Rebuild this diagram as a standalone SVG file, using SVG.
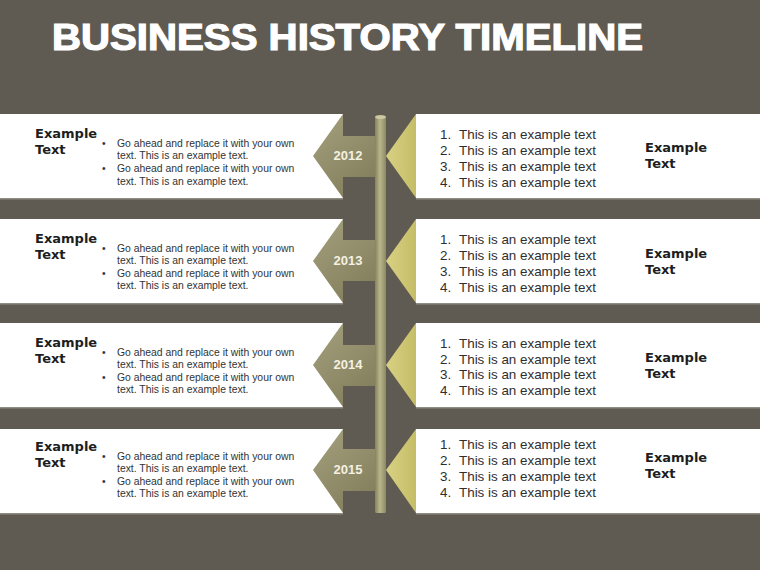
<svg xmlns="http://www.w3.org/2000/svg" width="760" height="570" viewBox="0 0 760 570">
<defs>
  <linearGradient id="gArrow" x1="0" y1="0" x2="0.6" y2="1">
    <stop offset="0" stop-color="#a5a17e"/>
    <stop offset="1" stop-color="#84805e"/>
  </linearGradient>
  <linearGradient id="gTri" x1="0" y1="0" x2="1" y2="0">
    <stop offset="0" stop-color="#d8d184"/>
    <stop offset="1" stop-color="#c5bd66"/>
  </linearGradient>
  <linearGradient id="gPole" x1="0" y1="0" x2="1" y2="0">
    <stop offset="0" stop-color="#86825d"/>
    <stop offset="0.45" stop-color="#bab68b"/>
    <stop offset="1" stop-color="#8c8862"/>
  </linearGradient>
  <style>
    .band{fill:#ffffff}
    .shadow{fill:#8f8c84}
    .arrow{fill:url(#gArrow)}
    .tri{fill:url(#gTri)}
    .title{font-family:"Liberation Sans",Arial,sans-serif;font-weight:bold;font-size:36px;fill:#ffffff;stroke:#ffffff;stroke-width:1.2px}
    .year{font-family:"Liberation Sans",Arial,sans-serif;font-weight:bold;font-size:13px;fill:#f3f1e2;text-anchor:middle}
    .head{font-family:"DejaVu Sans",Verdana,sans-serif;font-weight:bold;font-size:13px;fill:#1e1e1e}
    .bul{font-family:"Liberation Sans",Arial,sans-serif;font-size:10.4px;fill:#333333}
    .num{font-family:"Liberation Sans",Arial,sans-serif;font-size:13.4px;fill:#2e2e2e}
  </style>
</defs>
<rect x="0" y="0" width="760" height="570" fill="#5f5b52"/>
<g id="title">
  <text class="title" x="52" y="50" textLength="591" lengthAdjust="spacingAndGlyphs">BUSINESS HISTORY TIMELINE</text>
</g>

<g id="row-2012">
  <rect class="shadow" x="0" y="198" width="343" height="1.5"/>
  <rect class="shadow" x="416" y="198" width="344" height="1.5"/>
  <rect class="band" x="0" y="114" width="343" height="84"/>
  <rect class="band" x="416" y="114" width="344" height="84"/>
  <polygon class="arrow" points="313,156 343,114 343,136 375,136 375,177 343,177 343,198"/>
  <polygon class="tri" points="386,156 416,114 416,198"/>
  <text class="head" x="35" y="138">Example</text>
  <text class="head" x="35" y="154">Text</text>
  <text class="bul" x="102" y="147">•</text>
  <text class="bul" x="117" y="147">Go ahead and replace it with your own</text>
  <text class="bul" x="117" y="159">text. This is an example text.</text>
  <text class="bul" x="102" y="172">•</text>
  <text class="bul" x="117" y="172">Go ahead and replace it with your own</text>
  <text class="bul" x="117" y="185">text. This is an example text.</text>
  <text class="year" x="348" y="160">2012</text>
  <text class="num" x="440" y="139">1.</text><text class="num" x="459" y="139">This is an example text</text>
  <text class="num" x="440" y="155">2.</text><text class="num" x="459" y="155">This is an example text</text>
  <text class="num" x="440" y="171">3.</text><text class="num" x="459" y="171">This is an example text</text>
  <text class="num" x="440" y="187">4.</text><text class="num" x="459" y="187">This is an example text</text>
  <text class="head" x="645" y="152">Example</text>
  <text class="head" x="645" y="168">Text</text>
</g>

<g id="row-2013">
  <rect class="shadow" x="0" y="303" width="343" height="1.5"/>
  <rect class="shadow" x="416" y="303" width="344" height="1.5"/>
  <rect class="band" x="0" y="219" width="343" height="84"/>
  <rect class="band" x="416" y="219" width="344" height="84"/>
  <polygon class="arrow" points="313,261 343,219 343,240 375,240 375,281 343,281 343,303"/>
  <polygon class="tri" points="386,261 416,219 416,303"/>
  <text class="head" x="35" y="243">Example</text>
  <text class="head" x="35" y="259">Text</text>
  <text class="bul" x="102" y="252">•</text>
  <text class="bul" x="117" y="252">Go ahead and replace it with your own</text>
  <text class="bul" x="117" y="264">text. This is an example text.</text>
  <text class="bul" x="102" y="277">•</text>
  <text class="bul" x="117" y="277">Go ahead and replace it with your own</text>
  <text class="bul" x="117" y="289">text. This is an example text.</text>
  <text class="year" x="348" y="265">2013</text>
  <text class="num" x="440" y="244">1.</text><text class="num" x="459" y="244">This is an example text</text>
  <text class="num" x="440" y="260">2.</text><text class="num" x="459" y="260">This is an example text</text>
  <text class="num" x="440" y="276">3.</text><text class="num" x="459" y="276">This is an example text</text>
  <text class="num" x="440" y="292">4.</text><text class="num" x="459" y="292">This is an example text</text>
  <text class="head" x="645" y="258">Example</text>
  <text class="head" x="645" y="274">Text</text>
</g>

<g id="row-2014">
  <rect class="shadow" x="0" y="407" width="343" height="1.5"/>
  <rect class="shadow" x="416" y="407" width="344" height="1.5"/>
  <rect class="band" x="0" y="323" width="343" height="84"/>
  <rect class="band" x="416" y="323" width="344" height="84"/>
  <polygon class="arrow" points="313,365 343,323 343,345 375,345 375,386 343,386 343,407"/>
  <polygon class="tri" points="386,365 416,323 416,407"/>
  <text class="head" x="35" y="347">Example</text>
  <text class="head" x="35" y="363">Text</text>
  <text class="bul" x="102" y="356">•</text>
  <text class="bul" x="117" y="356">Go ahead and replace it with your own</text>
  <text class="bul" x="117" y="368">text. This is an example text.</text>
  <text class="bul" x="102" y="381">•</text>
  <text class="bul" x="117" y="381">Go ahead and replace it with your own</text>
  <text class="bul" x="117" y="393">text. This is an example text.</text>
  <text class="year" x="348" y="369">2014</text>
  <text class="num" x="440" y="348">1.</text><text class="num" x="459" y="348">This is an example text</text>
  <text class="num" x="440" y="364">2.</text><text class="num" x="459" y="364">This is an example text</text>
  <text class="num" x="440" y="379">3.</text><text class="num" x="459" y="379">This is an example text</text>
  <text class="num" x="440" y="395">4.</text><text class="num" x="459" y="395">This is an example text</text>
  <text class="head" x="645" y="362">Example</text>
  <text class="head" x="645" y="378">Text</text>
</g>

<g id="row-2015">
  <rect class="shadow" x="0" y="513" width="343" height="1.5"/>
  <rect class="shadow" x="416" y="513" width="344" height="1.5"/>
  <rect class="band" x="0" y="429" width="343" height="84"/>
  <rect class="band" x="416" y="429" width="344" height="84"/>
  <polygon class="arrow" points="313,470 343,429 343,449 375,449 375,491 343,491 343,513"/>
  <polygon class="tri" points="386,470 416,429 416,513"/>
  <text class="head" x="35" y="451">Example</text>
  <text class="head" x="35" y="467">Text</text>
  <text class="bul" x="102" y="460">•</text>
  <text class="bul" x="117" y="460">Go ahead and replace it with your own</text>
  <text class="bul" x="117" y="472">text. This is an example text.</text>
  <text class="bul" x="102" y="485">•</text>
  <text class="bul" x="117" y="485">Go ahead and replace it with your own</text>
  <text class="bul" x="117" y="497">text. This is an example text.</text>
  <text class="year" x="348" y="474">2015</text>
  <text class="num" x="440" y="449">1.</text><text class="num" x="459" y="449">This is an example text</text>
  <text class="num" x="440" y="465">2.</text><text class="num" x="459" y="465">This is an example text</text>
  <text class="num" x="440" y="481">3.</text><text class="num" x="459" y="481">This is an example text</text>
  <text class="num" x="440" y="497">4.</text><text class="num" x="459" y="497">This is an example text</text>
  <text class="head" x="645" y="462">Example</text>
  <text class="head" x="645" y="478">Text</text>
</g>

<g id="connectors">
  <rect x="375" y="117" width="11" height="396" rx="1.5" fill="url(#gPole)"/>
  <ellipse cx="380.5" cy="117" rx="5.5" ry="2" fill="#cbc8a2"/>
</g>
</svg>
